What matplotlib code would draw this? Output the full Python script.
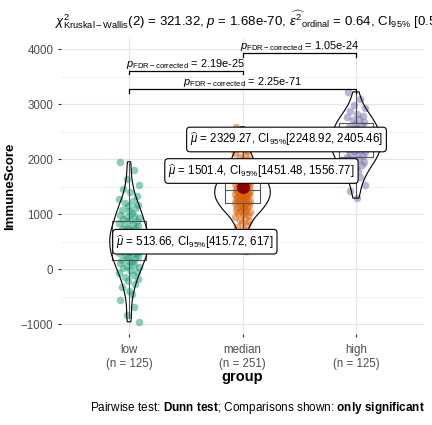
import numpy as np
import matplotlib
matplotlib.use("Agg")
import matplotlib.pyplot as plt

plt.rcParams['font.family'] = ['Liberation Sans', 'DejaVu Sans']
plt.rcParams['mathtext.fontset'] = 'custom'
plt.rcParams['mathtext.rm'] = 'Liberation Sans'
plt.rcParams['mathtext.it'] = 'Liberation Sans:italic'
plt.rcParams['mathtext.bf'] = 'Liberation Sans:bold'

# data
groups = ["low", "median", "high"]
group_n = [125, 251, 125]
colors = ["#1B9E77", "#D95F02", "#7570B3"]

low_scores = [1955, 1800, 1650, 1540, 1460, 1400, 1340, 1280,
              1235, 1205, 1175, 1145, 1115, 1085, 1055, 1025,
              995, 975, 955, 935, 915, 895, 870, 845, 820, 800, 780, 760,
              745, 728, 711, 694, 677, 660, 643, 626, 609, 592, 575, 558, 541, 524, 507,
              492, 475, 458, 441, 424, 407, 390, 373, 356, 339, 322, 305, 288, 271, 254,
              238, 216, 194, 172, 150, 128, 106, 84, 62, 40, 18,
              -8, -42, -76, -110, -144, -178, -212,
              -270, -330, -390, -450, -560, -680, -830, -955]
median_scores = [2590, 2470, 2370, 2290, 2220,
                 2180, 2145, 2110, 2075, 2040, 2010,
                 1985, 1962, 1940, 1918, 1896, 1874, 1852, 1830, 1808,
                 1793, 1779, 1765, 1751, 1737, 1723, 1709, 1695, 1681, 1667, 1653,
                 1639, 1625, 1611,
                 1597, 1587, 1576, 1566, 1555, 1545, 1534, 1524, 1513, 1503, 1492,
                 1482, 1471, 1461, 1450, 1440, 1429, 1419, 1408,
                 1397, 1387, 1376, 1366, 1355, 1345, 1334, 1324, 1313, 1303, 1292,
                 1282, 1271, 1261, 1250, 1240, 1229, 1219, 1208,
                 1195, 1181, 1167, 1153, 1139, 1125, 1111, 1097, 1083, 1069, 1055,
                 1041, 1027, 1013,
                 990, 960, 930, 900, 870, 840, 810,
                 770, 710, 640, 540, 330]
high_scores = [3225, 3090, 2990, 2935, 2880, 2830,
               2790, 2762, 2734, 2706, 2678, 2650, 2622,
               2595, 2573, 2551, 2529, 2507, 2485, 2463, 2441, 2419,
               2395, 2375, 2355, 2335, 2315, 2295, 2275, 2255, 2235, 2215,
               2190, 2168, 2146, 2124, 2102, 2080, 2058, 2036, 2014,
               1985, 1955, 1925, 1895, 1865, 1835,
               1780, 1730, 1680, 1620, 1540, 1420, 1295]

# boxplot stats (q1, median, q3, whiskers)
box_q1 = [169, 1200, 2047]
box_med = [520, 1440, 2330]
box_q3 = [878, 1750, 2654]
box_lo = [-890, 480, 1295]
box_hi = [1940, 2450, 3225]

means = [513.66, 1501.4, 2329.27]
mean_txt = ["513.66", "1501.4", "2329.27"]
ci_lo = ["415.72", "1451.48", "2248.92"]
ci_hi = ["617", "1556.77", "2405.46"]

pairs = [(2, 3), (1, 2), (1, 3)]
p_adj = ["1.05e-24", "2.19e-25", "2.25e-71"]

# layout
bar_y = [3927, 3611, 3273]
label_xy = [(1.58, 502), (2.167, 1787), (2.388, 2360)]
jit = [-0.07, 0.04, -0.02, 0.08, -0.05, 0.01, 0.06, -0.08, 0.03, -0.03, 0.07,
       -0.01, 0.05, -0.06, 0.0, 0.02]
jit_scale = [1.1, 0.8, 1.0]
violin_w = [0.34, 0.49, 0.44]
violin_bw = [0.22, 0.25, 0.3]

fig = plt.figure(figsize=(4.32, 4.25), dpi=100)
ax = fig.add_axes([61 / 432, 1 - 334 / 425, 363 / 432, 296 / 425])

data = [low_scores, median_scores, high_scores]
pos = [1, 2, 3]

for i, vals in enumerate(data):
    xs = [pos[i] + jit_scale[i] * jit[k % len(jit)] for k in range(len(vals))]
    ax.scatter(xs, vals, s=30, color=colors[i], alpha=0.5, lw=0, zorder=3)

stats = []
for i in range(3):
    stats.append(dict(q1=box_q1[i], med=box_med[i], q3=box_q3[i],
                      whislo=box_lo[i], whishi=box_hi[i], fliers=[]))
ax.bxp(stats, positions=pos, widths=0.3, showcaps=False, showfliers=False,
       boxprops=dict(color="#555555", lw=0.8),
       whiskerprops=dict(color="#555555", lw=0.8),
       medianprops=dict(color="#555555", lw=0.8), zorder=4)

for i in range(3):
    vp = ax.violinplot([data[i]], positions=[pos[i]], widths=violin_w[i],
                       showextrema=False, bw_method=violin_bw[i])
    for body in vp['bodies']:
        body.set_facecolor('none')
        body.set_edgecolor('black')
        body.set_linewidth(0.8)
        body.set_alpha(1)
        body.set_zorder(5)

ax.scatter(pos, means, s=70, color="#8B0000", zorder=6)

for i in range(3):
    txt = (r"$\widehat{\mu}$ = " + mean_txt[i] + r", CI$_{95\%}$[" + ci_lo[i]
           + ", " + ci_hi[i] + "]")
    ax.text(label_xy[i][0], label_xy[i][1], txt, ha="center", va="center",
            fontsize=8.3, zorder=8,
            bbox=dict(boxstyle="round,pad=0.3", fc="white", ec="black", lw=0.8))

tip = 60
for (a, b), p, y in zip(pairs, p_adj, bar_y):
    ax.plot([a, a, b, b], [y - tip, y, y, y - tip], color="black", lw=0.9,
            zorder=7, clip_on=False)
    ax.text((a + b) / 2, y + 75, r"$\mathit{p}_{\mathrm{FDR-corrected}}$ = " + p,
            ha="center", va="baseline", fontsize=7.9)

ax.set_xlim(0.4, 3.6)
ax.set_ylim(-1176, 4205)
ax.set_yticks([-1000, 0, 1000, 2000, 3000, 4000])
ax.set_yticks([-500, 500, 1500, 2500, 3500], minor=True)
ax.set_xticks(pos)
ax.set_xticklabels([f"{g}\n(n = {n})" for g, n in zip(groups, group_n)],
                   linespacing=1.15)
ax.grid(True, which="major", color="#E5E5E5", lw=0.8)
ax.grid(True, which="minor", axis="y", color="#EFEFEF", lw=0.6)
ax.set_axisbelow(True)
for s in ax.spines.values():
    s.set_visible(False)
ax.tick_params(axis="both", which="major", length=2.5, width=0.8, color="#333333",
               labelsize=8.3, labelcolor="#4D4D4D", pad=3)
ax.tick_params(axis="x", which="major", pad=5)
ax.tick_params(axis="y", which="minor", length=0)
ax.set_xlabel("group", fontsize=10.5, fontweight="bold", labelpad=0)
ax.set_ylabel("ImmuneScore", fontsize=9.5, fontweight="bold", labelpad=3)

sub = (r"$\chi^2_{\mathrm{Kruskal-Wallis}}$(2) = 321.32, $\mathit{p}$ = 1.68e-70, "
       r"$\widehat{\epsilon^2}_{\mathrm{ordinal}}$ = 0.64, CI$_{95\%}$ [0.59, 1.00], "
       r"$\mathit{n}_{\mathrm{obs}}$ = 501")
fig.text(55 / 432, 1 - 20 / 425, sub, ha="left", va="center", fontsize=9.5)
fig.text(425 / 432, 1 - 408 / 425,
         r"Pairwise test: $\mathbf{Dunn\ test}$; Comparisons shown: $\mathbf{only\ significant}$",
         ha="right", va="center", fontsize=8.5)

fig.savefig("out.png", dpi=100)
